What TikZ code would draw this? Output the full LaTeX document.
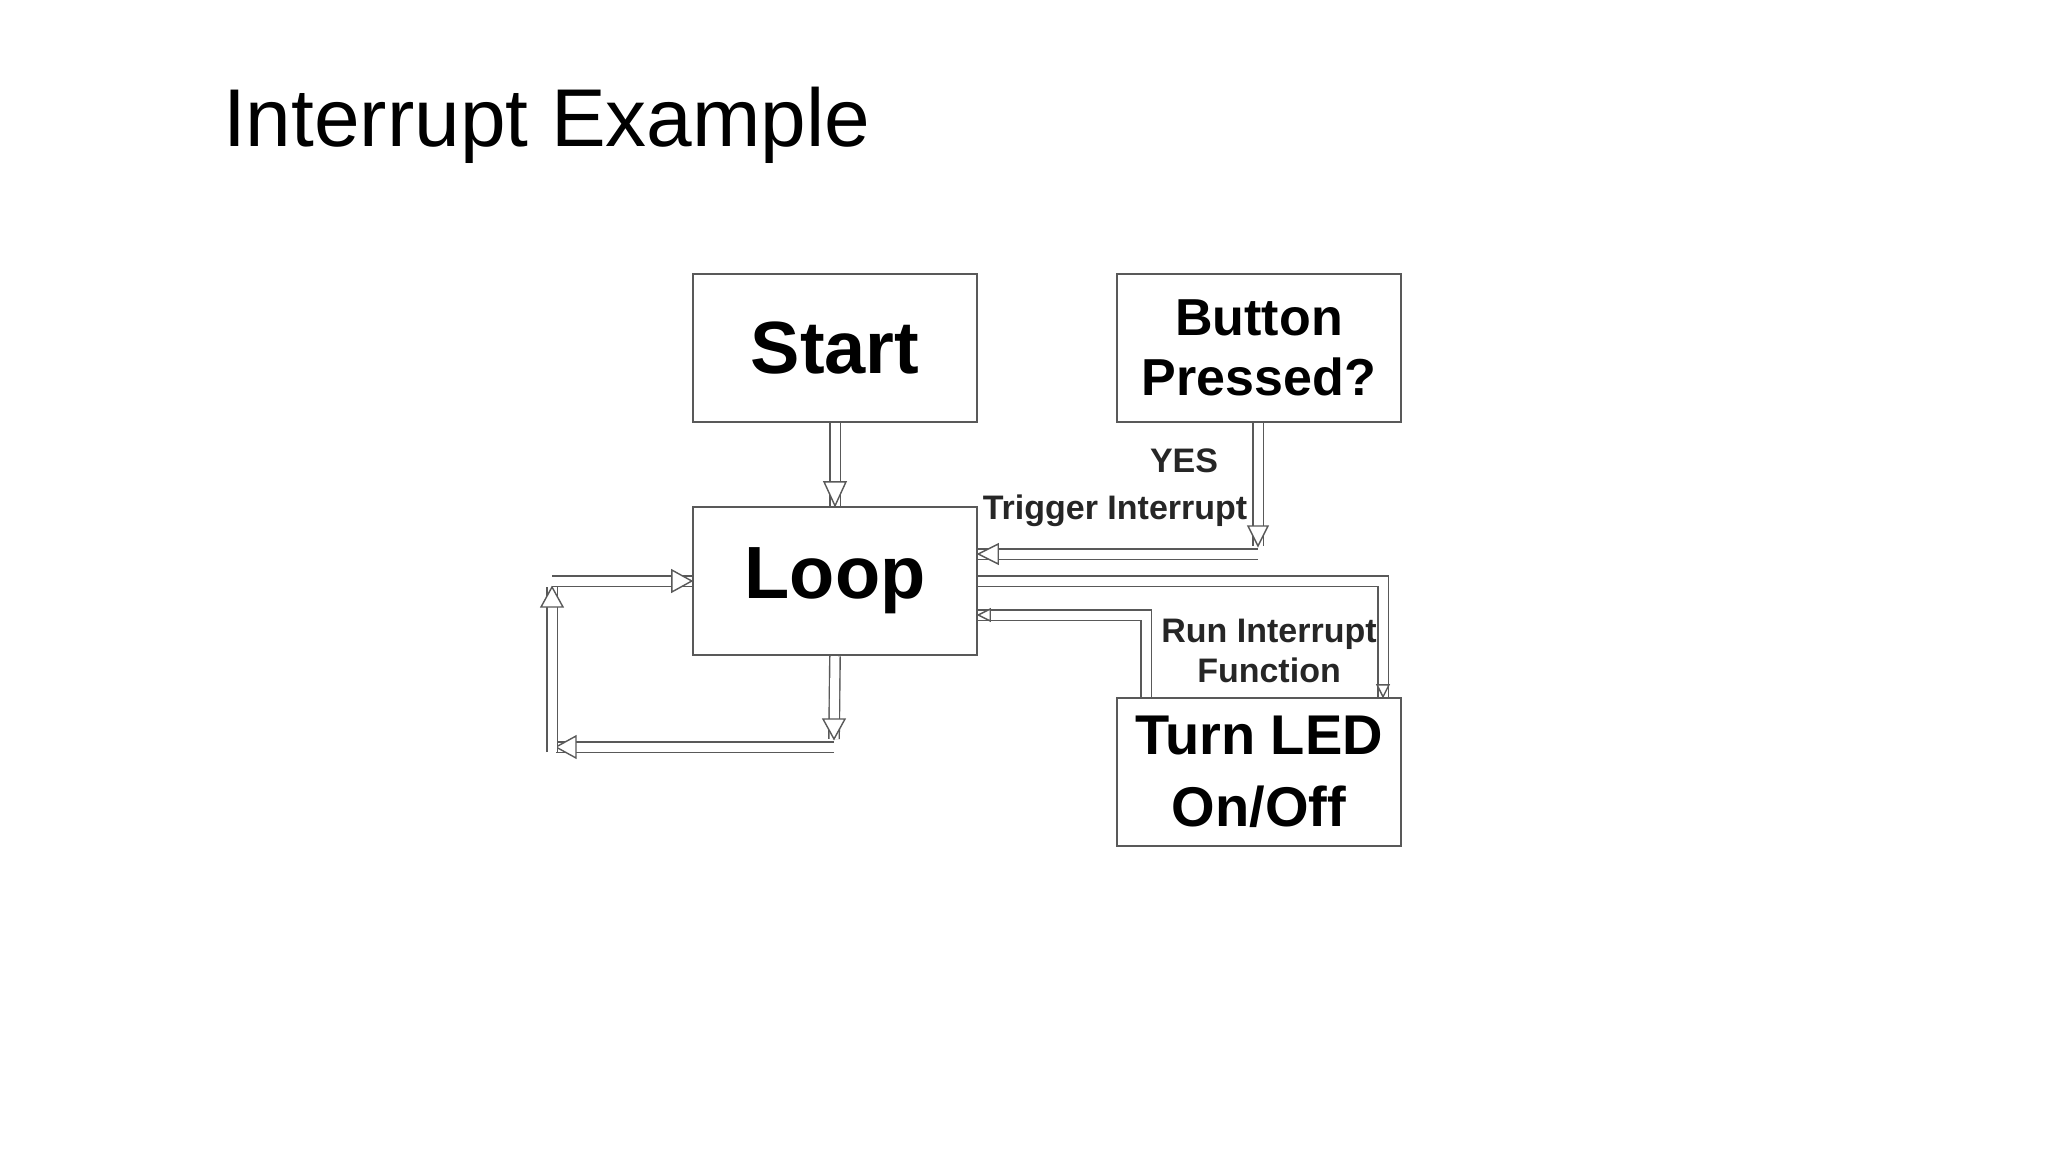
\documentclass[tikz,border=0pt]{standalone}
\usepackage{fontspec}
\setmainfont{Liberation Sans}
\begin{document}
\begin{tikzpicture}[x=0.5pt,y=-0.5pt,
  box/.style={draw=black!65, line width=1.2pt, minimum width=142pt, minimum height=74pt, inner sep=0pt, align=center, font=\bfseries\fontsize{26}{30}\selectfont},
  shaft/.style={draw=black!65, line width=0.7pt, double=white, double distance=4.5pt},
  headst/.style={draw=black!65, line width=0.7pt, fill=white},
  lbl/.style={font=\bfseries\fontsize{17}{20}\selectfont, text=black!85, inner sep=1pt}]
\newcommand\ahead[4]{\draw[headst, shift={#1}, rotate=#2] (0,0) -- (-#4,#3) -- (-#4,-#3) -- cycle;}
\useasboundingbox (0,0) rectangle (2048,1152);
\node[anchor=west, font=\fontsize{41}{48}\selectfont] (title) at (216,125) {Interrupt Example};
\node[box, font=\bfseries\fontsize{37}{40}\selectfont] (start) at (835,348) {Start};
\node[box] (btn) at (1259,348) {Button\\Pressed?};
\node[box, font=\bfseries\fontsize{37}{40}\selectfont] (loop) at (835,581) {Loop};
\node[box, font=\bfseries\fontsize{28}{36}\selectfont] (led) at (1259,772) {Turn LED\\On/Off};
% start -> loop
\draw[shaft] (start.south) -- (loop.north);
\ahead{(loop.north)}{-90}{11}{24}
% button -> loop
\coordinate (b1) at (1258,546);
\coordinate (b2) at (1258,554);
\coordinate (l1) at (loop.east |- b2);
\draw[shaft] (btn.south -| b1) -- (b1);
\ahead{(b1)}{-90}{10}{20}
\draw[shaft] (b2) -- (l1);
\ahead{(l1)}{180}{10}{20}
% loop -> led
\coordinate (r1) at (1383,581);
\coordinate (r2) at (led.north -| r1);
\draw[shaft] (loop.east) -- (r1) -- (r2);
\ahead{(r2)}{-90}{6}{12}
% led -> loop
\coordinate (u1) at (1146,615);
\coordinate (l2) at (loop.east |- u1);
\draw[shaft] (led.north -| u1) -- (u1) -- (l2);
\ahead{(l2)}{180}{6}{12}
% loop self loop
\coordinate (d1) at (834,739);
\coordinate (d2) at (834,747);
\coordinate (d3) at (556,747);
\coordinate (v1) at (552,752);
\coordinate (v2) at (552,587);
\coordinate (h1) at (552,581);
\draw[shaft] (loop.south) -- (d1);
\ahead{(d1)}{-90}{11}{20}
\draw[shaft] (d2) -- (d3);
\ahead{(d3)}{180}{11}{20}
\draw[shaft] (v1) -- (v2);
\ahead{(v2)}{90}{11}{20}
\draw[shaft] (h1) -- (loop.west);
\ahead{(loop.west)}{0}{11}{20}
% labels
\node[lbl] (yes) at (1184,461) {YES};
\node[lbl] (trig) at (1115,511) {Trigger Interrupt};
\node[lbl, align=center] (run) at (1269,651) {Run Interrupt\\Function};
\end{tikzpicture}
\end{document}
